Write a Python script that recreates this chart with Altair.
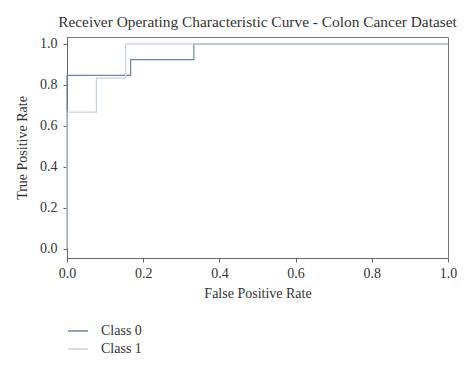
import altair as alt
import pandas as pd

classes = ["Class 0", "Class 1"]
fpr_class0 = [0.0, 0.0, 0.167, 0.167, 0.333, 0.333, 1.0]
tpr_class0 = [0.0, 0.846, 0.846, 0.923, 0.923, 1.0, 1.0]
fpr_class1 = [0.0, 0.0, 0.077, 0.077, 0.154, 0.154, 1.0]
tpr_class1 = [0.0, 0.667, 0.667, 0.833, 0.833, 1.0, 1.0]
colors = ["#6f83a7", "#c6d2e2"]

rows = []
for cls, fx, ty in [(classes[0], fpr_class0, tpr_class0), (classes[1], fpr_class1, tpr_class1)]:
    for i, (a, b) in enumerate(zip(fx, ty)):
        rows.append({"cls": cls, "fpr": a, "tpr": b, "idx": i})
df = pd.DataFrame(rows)

FONT = "Liberation Serif"

chart = alt.Chart(df).mark_line(strokeWidth=1.2).encode(
    x=alt.X("fpr:Q", scale=alt.Scale(domain=[0, 1], nice=False, zero=False),
            axis=alt.Axis(title="False Positive Rate", values=[0, 0.2, 0.4, 0.6, 0.8, 1.0], format=".1f",
                          grid=False, titlePadding=6, labelFlush=False, labelPadding=4)),
    y=alt.Y("tpr:Q", scale=alt.Scale(domain=[-0.046, 1.034], nice=False, zero=False),
            axis=alt.Axis(title="True Positive Rate", values=[0, 0.2, 0.4, 0.6, 0.8, 1.0], format=".1f",
                          grid=False, titlePadding=10, labelFlush=False, labelPadding=6)),
    color=alt.Color("cls:N", scale=alt.Scale(domain=classes, range=colors),
                    legend=alt.Legend(title=None, orient="none", legendX=0, legendY=283,
                                      symbolType="stroke", symbolSize=400, symbolStrokeWidth=1.5,
                                      labelFont=FONT, labelFontSize=14, labelColor="#333",
                                      rowPadding=0, labelOffset=12)),
    order="idx:Q",
).properties(
    width=381, height=221,
    title=alt.TitleParams("Receiver Operating Characteristic Curve - Colon Cancer Dataset",
                          font=FONT, fontSize=15.4, fontWeight="normal", color="#333", offset=7),
    autosize=alt.AutoSizeParams(type="none"),
    padding={"left": 59, "top": 29, "right": 18, "bottom": 110},
).configure_view(
    stroke="#777", strokeWidth=1
).configure_axis(
    labelFont=FONT, titleFont=FONT, labelFontSize=14, titleFontSize=14,
    titleFontWeight="normal", labelColor="#333", titleColor="#333",
    domainColor="#666", tickColor="#666", tickSize=4,
)

chart.save("out.html", embed_options={"renderer": "svg", "actions": False})
